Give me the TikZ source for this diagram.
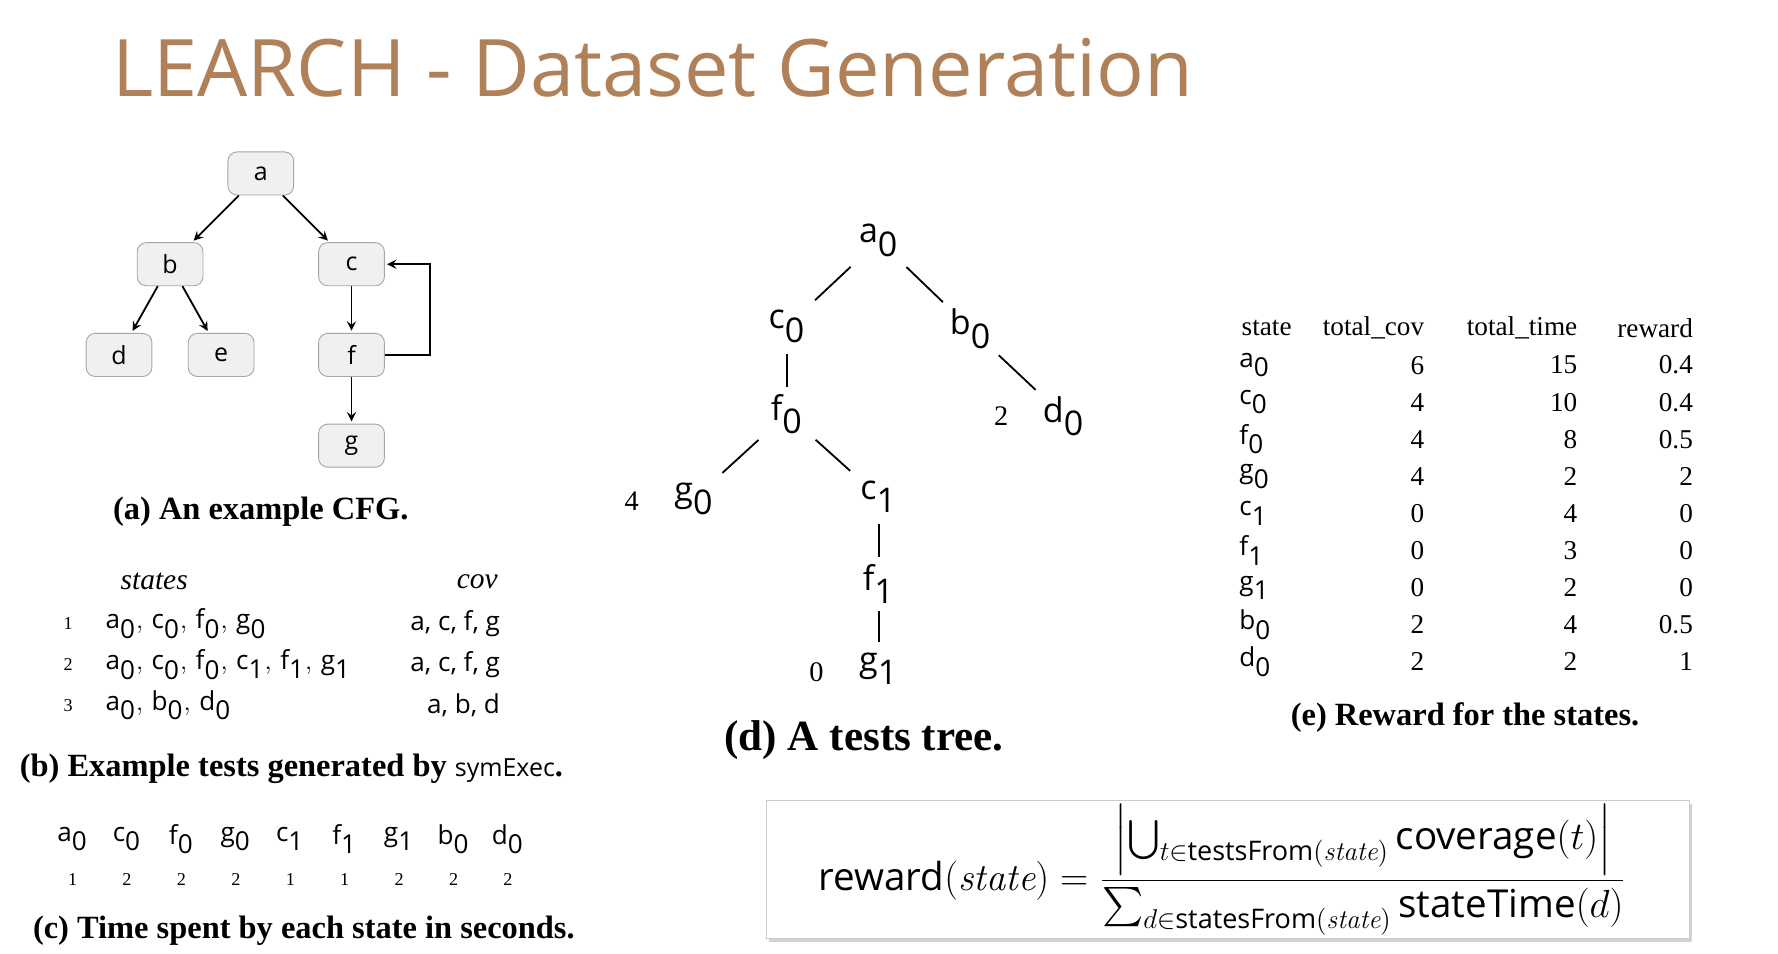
\documentclass[tikz,border=0pt]{standalone}
\usepackage{fontspec}
\usepackage{amsmath}
\setsansfont{Open Sans}
\newfontfamily\osans{Open Sans}
\newfontfamily\capf{Liberation Serif}
\newcommand\st[2]{{\osans #1}$_{\mbox{\osans #2}}$}
\definecolor{titlec}{RGB}{176,128,88}
\usetikzlibrary{shadows}
\begin{document}
\begin{tikzpicture}[x=0.5pt,y=-0.5pt,
  cfg/.style={draw=gray!70,fill=gray!12,rounded corners=4pt,minimum width=29pt,minimum height=19pt,font=\osans\fontsize{11}{11}\selectfont},
  arr/.style={-stealth,thick,shorten >=1pt},
  tr/.style={font=\fontsize{15}{15}\selectfont,inner sep=1pt},
  td/.style={thick,shorten >=17pt,shorten <=17pt},
  tv/.style={thick,shorten >=12pt,shorten <=12pt},
  captxt/.style={font=\capf\bfseries\fontsize{14.3}{14.3}\selectfont},
  tb/.style={font=\fontsize{11.5}{11.5}\selectfont},
  te/.style={font=\capf\fontsize{12}{12}\selectfont},
]
\useasboundingbox (0,0) rectangle (1568,841);
\fill[white] (0,0) rectangle (1568,841);
\node[anchor=west,text=titlec,font=\osans\fontsize{35}{35}\selectfont] (title) at (92,60) {LEARCH - Dataset Generation};
% CFG
\node[cfg] (a) at (230,153) {a};
\node[cfg] (b) at (150,233) {b};
\node[cfg] (c) at (310,233) {c};
\node[cfg] (d) at (105,313) {d};
\node[cfg] (e) at (195,313) {e};
\node[cfg] (f) at (310,313) {f};
\node[cfg] (g) at (310,393) {g};
\draw[arr] (a) -- (b); \draw[arr] (a) -- (c);
\draw[arr] (b) -- (d); \draw[arr] (b) -- (e);
\draw[arr] (c) -- (f); \draw[arr] (f) -- (g);
\draw[arr] (f.east) -- ++(40,0) |- (c.east);
\node[captxt] (capa) at (230,451) {(a) An example CFG.};
% (b)
\node[font=\capf\itshape\fontsize{13}{13}\selectfont] (hs) at (136,513) {states};
\node[font=\capf\itshape\fontsize{13}{13}\selectfont,anchor=east] (hc) at (446,513) {cov};
\foreach \y/\n/\sx/\cx in {550/1/{\st a0, \st c0, \st f0, \st g0}/{a, c, f, g},
  586/2/{\st a0, \st c0, \st f0, \st c1, \st f1, \st g1}/{a, c, f, g},
  622/3/{\st a0, \st b0, \st d0}/{a, b, d}}{
  \node[font=\capf\footnotesize] (n\n) at (60,\y) {\n};
  \node[tb,anchor=west] (s\n) at (86,\y) {\sx};
  \node[anchor=east,font=\osans\fontsize{11.5}{11.5}\selectfont] (c\n) at (448,\y) {\cx};
}
\node[captxt] (capb) at (257,678) {(b) Example tests generated by {\osans\mdseries\fontsize{11}{11}\selectfont symExec}.};
% (c)
\node[tb] (t1) at (64,740) {\st a0};\node[tb] (t2) at (112,740) {\st c0};\node[tb] (t3) at (160,740) {\st f0};
\node[tb] (t4) at (208,740) {\st g0};\node[tb] (t5) at (256,740) {\st c1};\node[tb] (t6) at (304,740) {\st f1};
\node[tb] (t7) at (352,740) {\st g1};\node[tb] (t8) at (400,740) {\st b0};\node[tb] (t9) at (448,740) {\st d0};
\foreach \x/\tv in {64/1,112/2,160/2,208/2,256/1,304/1,352/2,400/2,448/2}
  \node[font=\capf\footnotesize] at (\x,776) {\tv};
\node[captxt] (capc) at (268,821) {(c) Time spent by each state in seconds.};
% tree
\node[tr] (a0) at (775,212) {\st a0};
\node[tr] (c0) at (694,288) {\st c0};
\node[tr] (b0) at (856,290) {\st b0};
\node[tr] (f0) at (694,365) {\st f0};
\node[tr] (d0) at (938,367) {\st d0};
\node[tr] (g0) at (612,440) {\st g0};
\node[tr] (c1) at (775,438) {\st c1};
\node[tr] (f1) at (775,515) {\st f1};
\node[tr] (g1) at (775,590) {\st g1};
\node[font=\capf\fontsize{12.5}{12.5}\selectfont] (l2) at (883,367) {2};
\node[font=\capf\fontsize{12.5}{12.5}\selectfont] (l4) at (557,442) {4};
\node[font=\capf\fontsize{12.5}{12.5}\selectfont] (l0) at (720,593) {0};
\draw[td] (a0.center) -- (c0.center); \draw[td] (a0.center) -- (b0.center);
\draw[td] (b0.center) -- (d0.center);
\draw[tv] (c0.center) -- (f0.center);
\draw[td] (f0.center) -- (g0.center); \draw[td] (f0.center) -- (c1.center);
\draw[tv] (c1.center) -- (f1.center); \draw[tv] (f1.center) -- (g1.center);
\node[font=\capf\bfseries\fontsize{19}{19}\selectfont] (capd) at (762,653) {(d) A tests tree.};
% (e)
\node[te,anchor=west] at (1088,289) {state};
\node[te,anchor=east] at (1263,289) {total\_cov};
\node[te,anchor=east] at (1398,289) {total\_time};
\node[te,anchor=east] at (1500,289) {reward};
\foreach \i/\sx/\cv/\ttm/\rw in {0/a0/6/15/0.4,1/c0/4/10/0.4,2/f0/4/8/0.5,3/g0/4/2/2,4/c1/0/4/0,5/f1/0/3/0,6/g1/0/2/0,7/b0/2/4/0.5,8/d0/2/2/1}{
  \pgfmathsetmacro\yy{322+32.7*\i}
  \node[tb,anchor=west] at (1086,\yy) {\expandafter\st\sx};
  \node[te,anchor=east] at (1263,\yy) {\cv};
  \node[te,anchor=east] at (1398,\yy) {\ttm};
  \node[te,anchor=east] at (1500,\yy) {\rw};
}
\node[captxt] (cape) at (1292,633) {(e) Reward for the states.};
% formula
\node[draw=gray!40,fill=white,drop shadow={opacity=0.35,shadow xshift=1pt,shadow yshift=-1.5pt},minimum width=407pt,minimum height=61pt] (box) at (1083,767) {};
\node[font=\fontsize{17}{17}\selectfont] (form) at (1078,767) {$\textsf{reward}(\mathit{state}) = \dfrac{\left|\bigcup_{t\in\textsf{testsFrom}(\mathit{state})}\textsf{coverage}(t)\right|}{\sum_{d\in\textsf{statesFrom}(\mathit{state})}\textsf{stateTime}(d)}$};
\end{tikzpicture}
\end{document}
